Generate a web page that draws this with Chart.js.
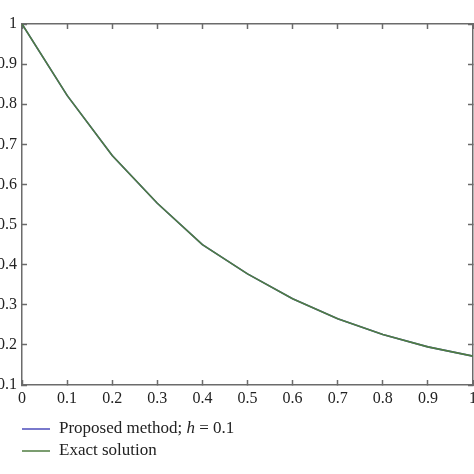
<!DOCTYPE html>
<html>
<head>
<meta charset="utf-8">
<script src="https://cdn.jsdelivr.net/npm/chart.js@4"></script>
<style>
  html, body { margin: 0; padding: 0; background: #fff; overflow: hidden; }
  #wrap { position: relative; width: 474px; height: 474px; overflow: hidden; }
  #c { position: absolute; left: -20px; top: 0; }
</style>
</head>
<body>
<div id="wrap"><canvas id="c" width="540" height="474"></canvas></div>
<script>
// values
const xs = [0, 0.1, 0.2, 0.3, 0.4, 0.5, 0.6, 0.7, 0.8, 0.9, 1];
const proposed = [1, 0.822, 0.672, 0.553, 0.450, 0.377, 0.315, 0.265, 0.226, 0.195, 0.172];
const exact = [1, 0.822, 0.672, 0.553, 0.450, 0.377, 0.315, 0.265, 0.226, 0.195, 0.172];
const xTickLabels = ['0', '0.1', '0.2', '0.3', '0.4', '0.5', '0.6', '0.7', '0.8', '0.9', '1'];
const yTickLabels = ['0.1', '0.2', '0.3', '0.4', '0.5', '0.6', '0.7', '0.8', '0.9', '1'];

const serif = '"Liberation Serif", "DejaVu Serif", serif';
const axisColor = '#6b6b6b';

function pts(ys) {
    return xs.map((x, i) => ({ x: x, y: ys[i] }));
}

function axis(pos, extra) {
    return Object.assign({
        type: 'linear',
        position: pos,
        border: { display: true, color: axisColor, width: 1.5 },
        grid: { drawOnChartArea: false, drawTicks: true, tickLength: -5, color: axisColor, tickWidth: 1.5 },
    }, extra);
}

// legend with italic h, drawn under the plot
const legendPlugin = {
    id: 'paperLegend',
    afterDraw(chart) {
        const ctx = chart.ctx;
        const rows = [429, 451];
        chart.data.datasets.forEach((ds, i) => {
            const y = rows[i];
            ctx.save();
            ctx.strokeStyle = ds.borderColor;
            ctx.lineWidth = 1.5;
            ctx.beginPath();
            ctx.moveTo(42, y);
            ctx.lineTo(70, y);
            ctx.stroke();
            ctx.fillStyle = '#222';
            ctx.textBaseline = 'middle';
            let x = 79;
            const parts = ds.label.split(/(\bh\b)/);
            parts.forEach(p => {
                if (!p) return;
                ctx.font = (p === 'h' ? 'italic ' : '') + '17px ' + serif;
                ctx.fillText(p, x, y);
                x += ctx.measureText(p).width;
            });
            ctx.restore();
        });
    }
};

new Chart(document.getElementById('c'), {
    type: 'line',
    data: {
        datasets: [
            { label: 'Proposed method; h = 0.1', data: pts(proposed), borderColor: '#4d4dbb', borderWidth: 1.6, pointRadius: 0, tension: 0, order: 2 },
            { label: 'Exact solution', data: pts(exact), borderColor: '#4f7d40', borderWidth: 1.6, pointRadius: 0, tension: 0, order: 1 }
        ]
    },
    options: {
        responsive: false,
        animation: false,
        layout: { padding: 0 },
        plugins: { legend: { display: false }, tooltip: { enabled: false } },
        scales: {
            x: axis('bottom', {
                min: 0, max: 1,
                ticks: { stepSize: 0.1, padding: 9, color: '#222', font: { family: serif, size: 16 }, maxRotation: 0,
                    callback: (v, i) => xTickLabels[i] },
                afterFit: s => { s.height = 89; }
            }),
            x2: axis('top', {
                min: 0, max: 1,
                ticks: { stepSize: 0.1, display: false },
                afterFit: s => { s.height = 24; }
            }),
            y: axis('left', {
                min: 0.1, max: 1,
                ticks: { stepSize: 0.1, padding: 10, color: '#222', font: { family: serif, size: 16 },
                    callback: (v, i) => yTickLabels[i] },
                afterFit: s => { s.width = 42; }
            }),
            y2: axis('right', {
                min: 0.1, max: 1,
                ticks: { stepSize: 0.1, display: false },
                afterFit: s => { s.width = 47; }
            })
        }
    },
    plugins: [legendPlugin]
});
</script>
</body>
</html>
